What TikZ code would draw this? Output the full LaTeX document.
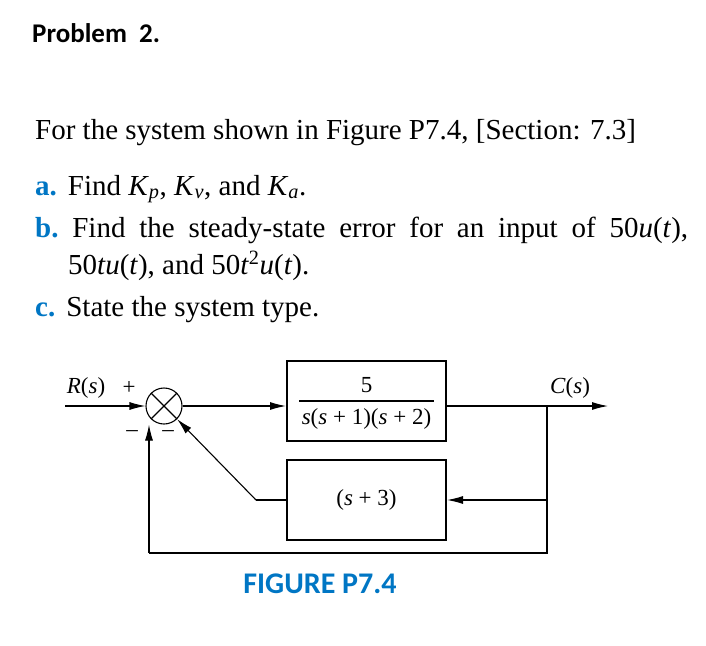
\documentclass[tikz,border=0pt]{standalone}
\usepackage{fontspec}
\setmainfont{Liberation Serif}
\newfontfamily\headfont{Carlito}
\usetikzlibrary{arrows.meta}
\definecolor{figblue}{RGB}{0,118,196}

\tikzset{
  block/.style={draw, line width=2pt, minimum width=159pt, minimum height=80pt, inner sep=0pt},
  sig/.style={line width=1.1pt, -{Latex[length=16pt,width=8pt]}},
  wire/.style={line width=1.1pt},
  para/.style={anchor=base west, inner sep=0pt, font=\fontsize{29}{34}\selectfont},
  sm/.style={inner sep=0pt, font=\fontsize{23}{26}\selectfont}
}

\begin{document}
\begin{tikzpicture}[x=1pt, y=-1pt]
  \useasboundingbox (0,0) rectangle (706,645);

  % header and problem text
  \node[anchor=base west, inner sep=0pt, font=\headfont\bfseries\fontsize{27}{30}\selectfont] (head) at (32,42) {Problem\ \ 2.};
  \node[para] (intro) at (35,139) {For the system shown in Figure P7.4, [Section: 7.3]};
  \node[para] (pa) at (35,195) {\textcolor{figblue}{\textbf{a.}}\hspace{11pt}Find \textit{K}\textsubscript{\textit{p}}, \textit{K}\textsubscript{\textit{v}}, and \textit{K}\textsubscript{\textit{a}}.};
  \node[para] (pb) at (35,237)
    {\makebox[653pt][s]{\textcolor{figblue}{\textbf{b.}}\ Find the steady-state error for an input of 50\textit{u}(\textit{t}),}};
  \node[para] (pb2) at (68,274) {50\textit{tu}(\textit{t}), and 50\textit{t}\textsuperscript{2}\textit{u}(\textit{t}).};
  \node[para] (pc) at (35,316) {\textcolor{figblue}{\textbf{c.}}\hspace{11pt}State the system type.};

  % block diagram
  \node[draw, circle, wire, minimum size=36pt, inner sep=0pt] (sum) at (164,406) {};
  \draw[wire] (sum.north west) -- (sum.south east) (sum.north east) -- (sum.south west);
  \node[block] (plant) at (366.5,401) {};
  \node[sm] (num) at (366.5,385) {5};
  \node[sm] (den) at (366.5,419) {\textit{s}(\textit{s} + 1)(\textit{s} + 2)};
  \draw[wire] (299,401) -- (434,401);
  \node[block] (fb) at (366.5,500) {};
  \node[sm] (fbtxt) at (366.5,500) {(\textit{s} + 3)};

  \coordinate (rin) at (65,406);
  \coordinate (branch) at (547,406);
  \coordinate (cout) at (608,406);
  \coordinate (fbfront) at (547,500);
  \coordinate (bend) at (256,500);
  \coordinate (corner) at (547,553);
  \coordinate (leftcorner) at (149,553);

  \draw[sig] (rin) -- (sum.west);
  \draw[sig] (sum.east) -- (plant.west |- sum.east);
  \draw[wire] (plant.east |- branch) -- (branch);
  \draw[sig] (branch) -- (cout);
  \draw[wire] (branch) -- (corner) -- (leftcorner);
  \draw[sig] (leftcorner) -- (sum.south -| leftcorner);
  \draw[sig] (fbfront) -- (fb.east);
  \draw[wire] (fb.west) -- (bend);
  \draw[sig] (bend) -- (sum.south east);

  \node[sm] (rs) at (86,388) {\textit{R}(\textit{s})};
  \node[sm] (plus) at (129,388) {+};
  \node[sm] (cs) at (570,388) {\textit{C}(\textit{s})};
  \node[sm] (m1) at (132,434) {\textendash};
  \node[sm] (m2) at (168,434) {\textendash};

  \node[anchor=base, inner sep=0pt, font=\headfont\bfseries\fontsize{30}{34}\selectfont, text=figblue] (cap) at (320,593) {FIGURE P7.4};
\end{tikzpicture}
\end{document}
